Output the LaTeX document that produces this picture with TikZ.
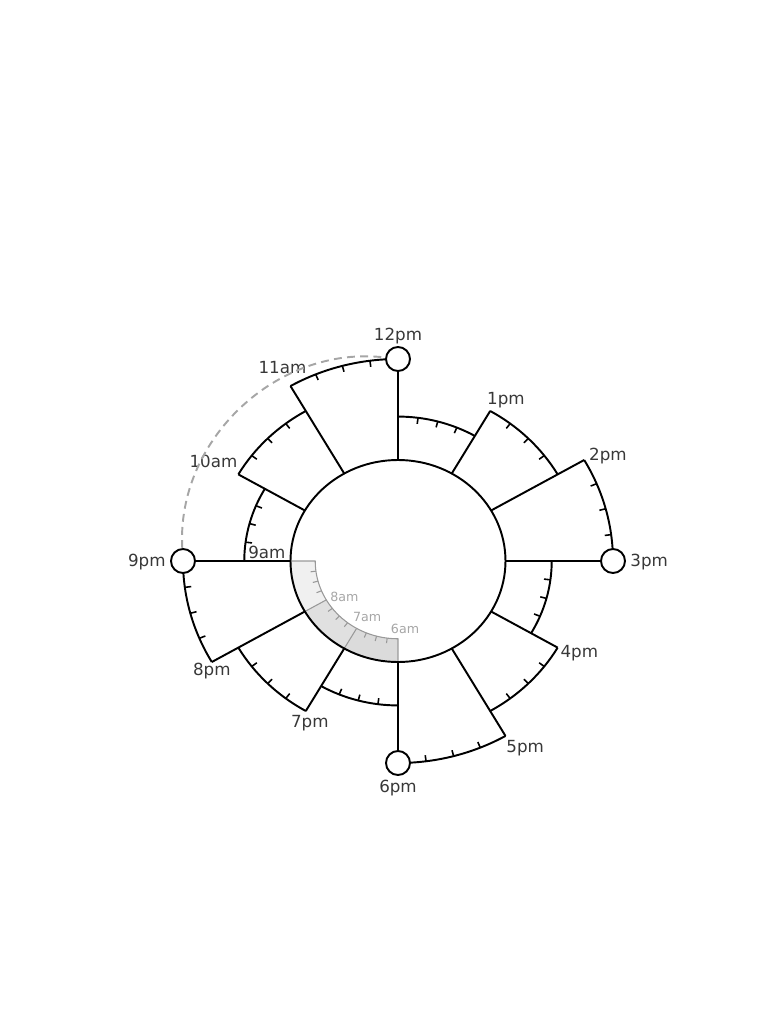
\documentclass[tikz,border=0pt]{standalone}
\usepackage{fontspec}
\setmainfont{DejaVu Sans}
\begin{document}
\begin{tikzpicture}[x=2.15cm, y=2.02cm, line width=1.1pt,
        hub/.style={circle, draw, fill=white, minimum size=0.48cm, inner sep=0pt},
        hour/.style={font=\fontsize{9.5}{11}\selectfont, text=black!78, inner sep=0pt},
        early/.style={font=\fontsize{7.2}{8}\selectfont, text=black!35, inner sep=0pt},
        band/.style={draw=black!40, line width=0.6pt}]
        \useasboundingbox (-7.96cm,-9.26cm) rectangle (7.40cm,11.22cm);

        % Shaded early morning band (6am to 9am)
        \foreach \a/\s in {180/6, 210/12, 240/14}
            \fill[black!\s] (\a:0.77) arc[start angle=\a, end angle=\a+30, radius=0.77] -- (\a+30:1) arc[start angle=\a+30, end angle=\a, radius=1] -- cycle;
        \draw[band] (180:1) -- (180:0.77) arc[start angle=180, end angle=270, radius=0.77] -- (270:1);
        \draw[band] (210:0.77) -- (210:1);
        \draw[band] (240:0.77) -- (240:1);
        \foreach \t in {187.5, 195, 202.5, 217.5, 225, 232.5, 247.5, 255, 262.5}
            \draw[band] (\t:0.77) -- (\t:0.82);

        % Inner circle
        \draw (0,0) circle[radius=1];

        % Hour arcs with quarter ticks
        \foreach \a/\r in {90/1.43, 60/1.715, 30/2, 0/1.43, -30/1.715, -60/2, -90/1.43, -120/1.715, -150/2, 180/1.43, 150/1.715, 120/2} {
            \draw (\a:\r) arc[start angle=\a, end angle=\a-30, radius=\r];
            \foreach \t in {7.5, 15, 22.5}
                \draw[line width=0.9pt] (\a-\t:\r) -- (\a-\t:\r-0.06);
        }

        % Corners and hubs
        \coordinate (c1) at (60:1.715);
        \coordinate (c2) at (30:2);
        \coordinate (c4) at (-30:1.715);
        \coordinate (c5) at (-60:2);
        \coordinate (c7) at (-120:1.715);
        \coordinate (c8) at (-150:2);
        \coordinate (c10) at (150:1.715);
        \coordinate (c11) at (120:2);
        \node[hub] (pm12) at (90:2) {};
        \node[hub] (pm3) at (0:2) {};
        \node[hub] (pm6) at (-90:2) {};
        \node[hub] (pm9) at (180:2) {};

        % Spokes
        \foreach \a/\e in {60/c1, 30/c2, -30/c4, -60/c5, -120/c7, -150/c8, 150/c10, 120/c11, 90/pm12, 0/pm3, -90/pm6, 180/pm9}
            \draw (\a:1) -- (\e);

        % Hour labels
        \node[hour, anchor=base] at ([yshift=0.11cm]pm12.north) {12pm};
        \node[hour, anchor=base west] at ([xshift=0.07cm, yshift=-0.1cm]pm3.east) {3pm};
        \node[hour, anchor=base] at ([yshift=-0.33cm]pm6.south) {6pm};
        \node[hour, anchor=base east] at ([xshift=-0.07cm, yshift=-0.1cm]pm9.west) {9pm};
        \node[hour, anchor=base west] at ([xshift=-0.08cm, yshift=0.12cm]c1) {1pm};
        \node[hour, anchor=base west] at ([xshift=0.08cm]c2) {2pm};
        \node[hour, anchor=base west] at ([xshift=0.04cm, yshift=-0.2cm]c4) {4pm};
        \node[hour, anchor=base west] at ([yshift=-0.34cm]c5) {5pm};
        \node[hour, anchor=base] at ([xshift=0.08cm, yshift=-0.32cm]c7) {7pm};
        \node[hour, anchor=base] at ([yshift=-0.26cm]c8) {8pm};
        \node[hour, anchor=base east] at ([yshift=0.14cm]c10) {10am};
        \node[hour, anchor=base] at ([xshift=-0.16cm, yshift=0.26cm]c11) {11am};
        \node[hour, anchor=base] at ([yshift=0.06cm]180:1.22) {9am};

        % Early morning labels
        \node[early, anchor=base west] at ([xshift=0.06cm, yshift=-0.04cm]210:0.77) {8am};
        \node[early, anchor=base west] at ([xshift=-0.09cm, yshift=0.13cm]240:0.77) {7am};
        \node[early, anchor=base west] at ([xshift=-0.16cm, yshift=0.1cm]270:0.77) {6am};

        % Dashed link from 9pm to 12pm
        \draw[black!35, dash pattern=on 4.5pt off 3pt] (pm9) to[bend left=50] (pm12);
    \end{tikzpicture}
\end{document}
